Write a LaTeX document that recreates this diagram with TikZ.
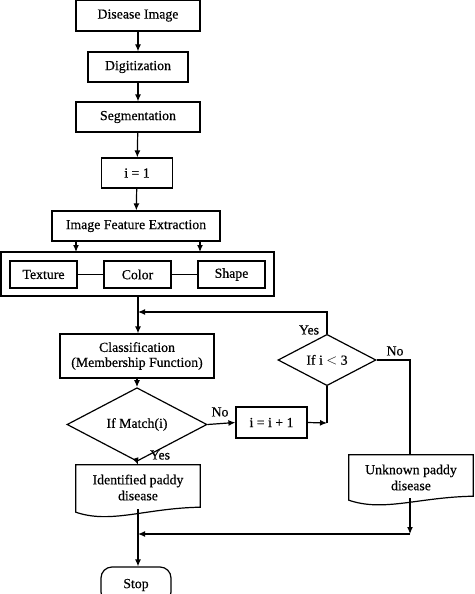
\documentclass[tikz,border=0pt]{standalone}
\usepackage{fontspec}
\setmainfont{Liberation Serif}[BoldFont=Liberation Serif,BoldFeatures={FakeBold=0.5}]
\usetikzlibrary{shapes.geometric,arrows.meta,calc}
\begin{document}
\begin{tikzpicture}[x=1pt,y=-1pt,
  tf/.style={font=\fontsize{13.8}{15}\selectfont\bfseries},
  box/.style={draw,line width=1.2pt,inner sep=0pt,tf,align=center},
  dia/.style={draw,line width=1.2pt,diamond,inner sep=0pt,tf},
  doc/.style={inner sep=0pt,font=\fontsize{13.8}{16}\selectfont\bfseries,align=center},
  lbl/.style={tf,inner sep=1pt},
  ln/.style={line width=1.2pt},
  arr/.style={line width=1.2pt,-{Latex[length=7pt,width=6pt]}}]
\useasboundingbox (0,0) rectangle (474,594);
\node[box,minimum width=124,minimum height=31] (dis) at (138,15.5) {Disease Image};
\node[box,minimum width=100,minimum height=30] (dig) at (138,67) {Digitization};
\node[box,minimum width=124,minimum height=30] (seg) at (138,117) {Segmentation};
\node[box,minimum width=71,minimum height=30] (i1) at (137,173) {i = 1};
\node[box,minimum width=168,minimum height=30] (ife) at (136,226) {Image Feature Extraction};
\node[box,minimum width=273,minimum height=44] (feat) at (137.5,274) {};
\node[box,minimum width=67,minimum height=27] (tex) at (43.5,274.5) {Texture};
\node[box,minimum width=67,minimum height=27] (col) at (137.5,274.5) {Color};
\node[box,minimum width=67,minimum height=27] (sha) at (231.5,274.5) {Shape};
\node[box,minimum width=154,minimum height=44] (cls) at (137,356) {Classification\\(Membership Function)};
\node[dia,minimum width=140,minimum height=43] (dm) at (137,424.5) {If Match(i)};
\node[box,minimum width=71,minimum height=31] (inc) at (271.5,422.5) {i = i + 1};
\node[dia,minimum width=98,minimum height=36] (d2) at (327,360) {If i $<$ 3};
\node[doc,minimum width=124,minimum height=45] (idf) at (138,487.5) {Identified paddy\\disease};
\node[doc,minimum width=124,minimum height=45] (unk) at (411,477.5) {Unknown paddy\\disease};
\node[box,minimum width=70,minimum height=36,rounded corners=11pt] (stop) at (136,585) {\raisebox{-4pt}{Stop}};
% document shapes
\draw[ln] ($(idf.north west)$) -- ($(idf.north east)$) -- ($(idf.south east)+(0,-3)$)
  .. controls ($(idf.south east)+(-55,-2)$) and ($(idf.south west)+(35,14)$) .. ($(idf.south west)+(0,2)$) -- cycle;
\draw[ln] ($(unk.north west)$) -- ($(unk.north east)$) -- ($(unk.south east)+(0,-4)$)
  .. controls ($(unk.south east)+(-55,-3)$) and ($(unk.south west)+(35,12)$) .. ($(unk.south west)+(0,0)$) -- cycle;
% coordinates
\coordinate (o1) at (76,252);
\coordinate (o2) at (200,252);
\coordinate (j1) at (138,312);
\coordinate (c1) at (327,312);
\coordinate (c2) at (327,423);
\coordinate (c3) at (410,360);
\coordinate (c4) at (410,534);
\coordinate (j2) at (138,534);
% connectors
\draw[arr] (dis) -- (dig);
\draw[arr] (dig) -- (seg);
\draw[arr] (seg) -- (i1);
\draw[arr] (i1) -- (ife);
\draw[arr] (ife.south -| o1) -- (o1);
\draw[arr] (ife.south -| o2) -- (o2);
\draw[ln] (tex) -- (col);
\draw[ln] (col) -- (sha);
\draw[arr] (feat.south -| j1) -- (cls.north -| j1);
\draw[arr] (d2.north) -- (c1) -- (j1);
\draw[arr] (cls.south -| dm.north) -- (dm.north);
\draw[arr] (dm.east) -- (inc.west);
\draw[arr] (inc.east) -- (c2);
\draw[ln] (c2) -- (d2.south);
\draw[ln] (d2.east) -- (c3) -- (unk.north -| c3);
\draw[arr] (dm.south) -- (idf.north);
\draw[arr] ($(unk.south -| c4)+(0,-2)$) -- (c4);
\draw[arr] (c4) -- (j2);
\draw[arr] ($(idf.south -| j2)+(0,-1)$) -- (stop.north -| j2);
% labels
\node[lbl] (lno1) at (220,412) {No};
\node[lbl] (lyes1) at (160,455) {Yes};
\node[lbl] (lyes2) at (309,330) {Yes};
\node[lbl] (lno2) at (395,351) {No};
\end{tikzpicture}
\end{document}
